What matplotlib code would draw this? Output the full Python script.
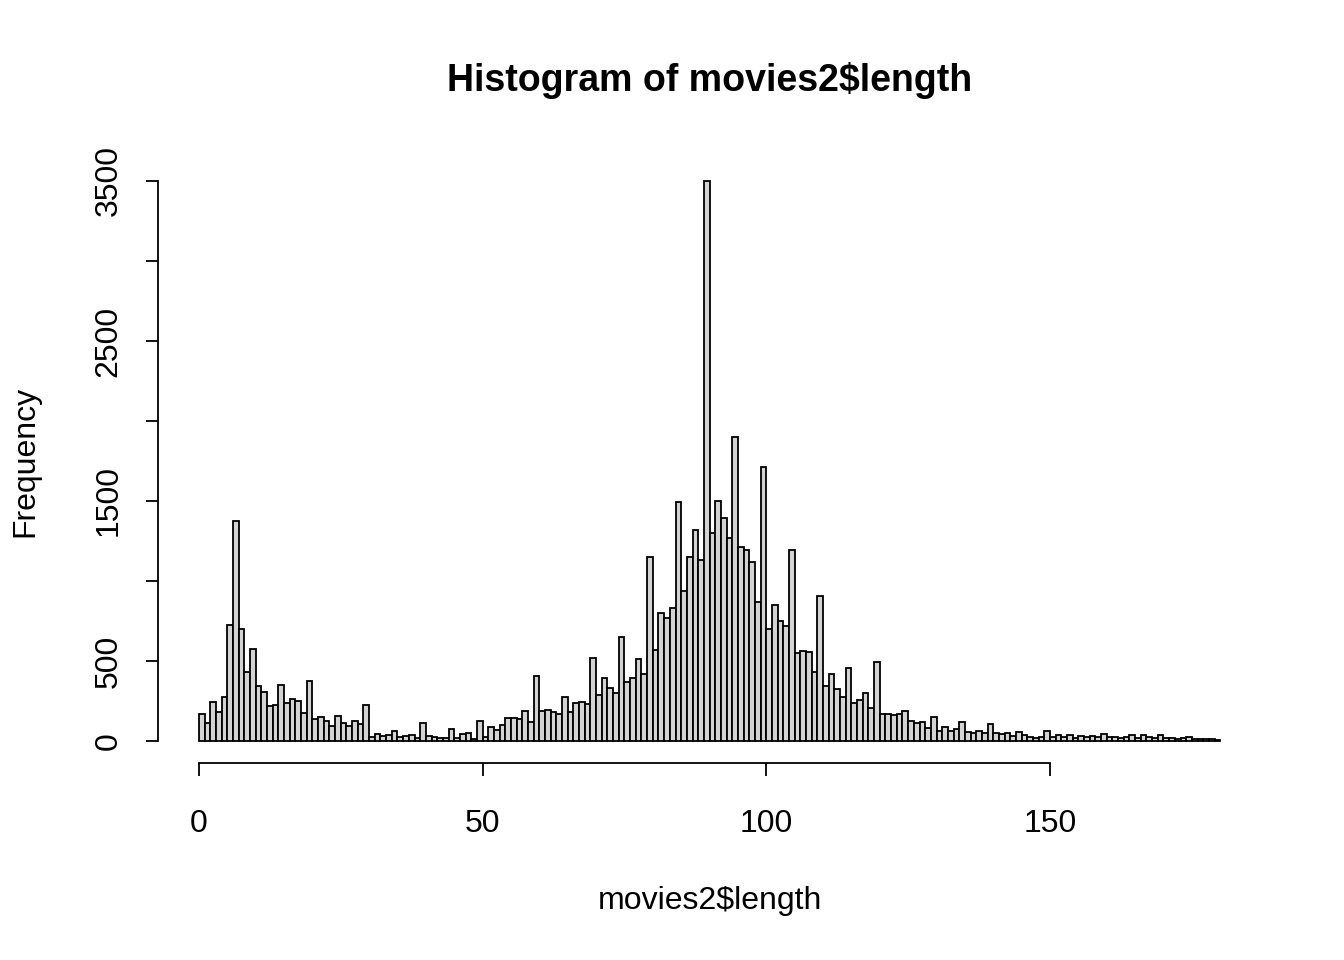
import matplotlib
matplotlib.use("Agg")
import matplotlib.pyplot as plt
import numpy as np

# counts per 1-minute bin, lengths 0..179
counts = [
    167, 115, 242, 183, 275, 725, 1377, 698, 429, 575,
    346, 308, 221, 225, 350, 240, 260, 250, 173, 375,
    140, 148, 127, 94, 158, 110, 96, 123, 104, 223,
    27, 44, 33, 38, 65, 23, 31, 37, 21, 115,
    29, 27, 21, 21, 73, 21, 42, 50, 10, 127,
    27, 87, 71, 100, 146, 146, 135, 185, 121, 406,
    185, 194, 181, 171, 277, 179, 240, 246, 229, 521,
    288, 395, 331, 297, 651, 366, 395, 514, 420, 1150,
    567, 802, 768, 830, 1495, 940, 1150, 1319, 1132, 3500,
    1303, 1500, 1394, 1271, 1897, 1214, 1196, 1120, 869, 1710,
    702, 853, 750, 720, 1191, 552, 560, 556, 429, 908,
    346, 419, 323, 277, 458, 235, 256, 298, 208, 494,
    167, 167, 162, 171, 187, 123, 110, 119, 83, 148,
    62, 85, 62, 75, 119, 54, 52, 65, 48, 108,
    48, 44, 48, 31, 58, 40, 25, 20, 25, 65,
    25, 35, 25, 35, 20, 30, 25, 30, 22, 44,
    25, 22, 18, 25, 37, 20, 40, 22, 20, 40,
    18, 20, 15, 20, 25, 15, 15, 12, 10, 8,
]
edges = np.arange(0, len(counts) + 1)

plt.rcParams["font.family"] = ["Liberation Sans", "DejaVu Sans"]

fig = plt.figure(figsize=(13.44, 9.6), dpi=100)
ax = fig.add_axes([0.1176, 0.2048, 0.8207, 0.630])

ax.bar(edges[:-1], counts, width=1, align="edge", color="#D3D3D3",
       edgecolor="black", linewidth=1.3)

ax.set_xlim(-7.2, 187.2)
ax.set_ylim(-140, 3640)

for s in ["top", "right"]:
    ax.spines[s].set_visible(False)
ax.spines["left"].set_bounds(0, 3500)
ax.spines["bottom"].set_bounds(0, 150)
for s in ["left", "bottom"]:
    ax.spines[s].set_linewidth(1.3)

ax.set_xticks([0, 50, 100, 150])
ax.set_yticks([0, 500, 1000, 1500, 2000, 2500, 3000, 3500])
ax.set_yticklabels(["0", "500", "", "1500", "", "2500", "", "3500"],
                   rotation=90, va="center")
ax.tick_params(length=9, width=1.3, labelsize=23, pad=16)
ax.tick_params(axis="x", pad=24)

fig.text(0.528, 0.916, "Histogram of movies2$length", ha="center",
         va="center", fontsize=27, fontweight="bold")
fig.text(0.528, 0.061, "movies2$length", ha="center", va="center",
         fontsize=23)
fig.text(0.019, 0.519, "Frequency", ha="center", va="center",
         fontsize=23, rotation=90)

fig.savefig("out.png", dpi=100)
